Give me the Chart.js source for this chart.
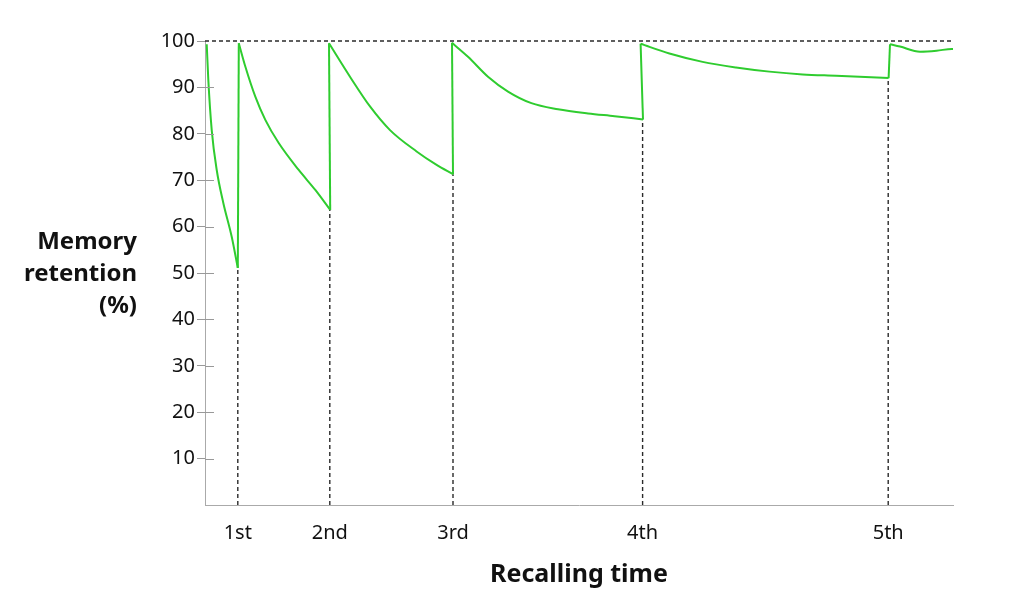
<!DOCTYPE html>
<html>
<head>
<meta charset="utf-8">
<script src="https://cdn.jsdelivr.net/npm/chart.js@4/dist/chart.umd.min.js"></script>
<style>
html,body{margin:0;padding:0;background:#fff;}
#wrap{width:1024px;height:616px;}
</style>
</head>
<body>
<div id="wrap"><canvas id="c" width="1024" height="616"></canvas></div>
<script>
// ---- data ----
// forgetting curve, one array per decay period (after each recall the retention jumps back up)
const decayX = [
  [0.43,0.83,1.68,2.93,4.58,6.68,8.2],
  [8.45,10.08,12.58,15.08,18.43,23.43,27.58,31.3],
  [31.0,36.25,41.25,46.25,52.9,57.9,62.0],
  [61.75,65.75,70.75,75.75,81.6,88.25,95.75,102.4,109.5],
  [108.9,116.1,124.4,132.75,141.1,149.4,157.75,170.9],
  [171.25,173.75,178.75,182.9,186.7,187]
];
const decayY = [
  [99.3,91.6,80.8,72.2,65.1,57.8,51.1],
  [99.5,94.5,88,83,78,72.2,67.9,63.6],
  [99.5,92.3,85.9,80.8,76.2,73.3,71.3],
  [99.6,96.6,92.3,89.1,86.6,85.3,84.4,83.8,83.1],
  [99.4,97.3,95.5,94.3,93.4,92.8,92.5,92.0],
  [99.3,98.8,97.7,97.9,98.3,98.3]
];
const recallX = [8.2, 31.2, 62.0, 109.4, 170.8];
const recallBottom = [51.1, 63.6, 71.3, 83.1, 92.0];
const recallLabels = ['1st','2nd','3rd','4th','5th'];
const yTickValues = [10,20,30,40,50,60,70,80,90,100];
const xMin = 0, xMax = 187;
const yTitleLines = ['Memory','retention','(%)'];
const xTitle = 'Recalling time';

// ---- build ----
const FONT = '"Noto Sans", "Open Sans", sans-serif';
const GREEN = '#2fcc2f';
const DASH = {borderColor:'#2a2a2a', borderWidth:1.4, borderDash:[4,3], pointRadius:0, order:2, clip:false};
const datasets = [];
datasets.push(Object.assign({data:[{x:xMin,y:100},{x:xMax,y:100}]}, DASH));
recallX.forEach((rx,i)=>{
  datasets.push(Object.assign({data:[{x:rx,y:0},{x:rx,y:recallBottom[i]}]}, DASH));
});
decayX.forEach((xs,s)=>{
  datasets.push({
    data: xs.map((x,i)=>({x:x,y:decayY[s][i]})),
    borderColor:GREEN, borderWidth:2, pointRadius:0, cubicInterpolationMode:'monotone', order:1
  });
  if (s < decayX.length-1) {
    const n = xs.length-1;
    datasets.push({
      data:[{x:xs[n],y:decayY[s][n]},{x:decayX[s+1][0],y:decayY[s+1][0]}],
      borderColor:GREEN, borderWidth:2, pointRadius:0, tension:0, order:1
    });
  }
});

const extras = {
  id:'extras',
  afterDraw(chart){
    const ctx = chart.ctx;
    const ys = chart.scales.y;
    const left = chart.chartArea.left;
    ctx.save();
    ctx.strokeStyle = '#999';
    ctx.lineWidth = 1;
    yTickValues.forEach(v=>{
      if (v===100) return;
      const py = Math.round(ys.getPixelForValue(v))+0.5;
      ctx.beginPath(); ctx.moveTo(left, py); ctx.lineTo(left+9, py); ctx.stroke();
    });
    ctx.fillStyle = '#111';
    ctx.font = 'bold 24px ' + FONT;
    ctx.textAlign = 'right';
    ctx.textBaseline = 'alphabetic';
    yTitleLines.forEach((t,i)=>{ ctx.fillText(t, 137, 249 + i*32); });
    ctx.restore();
  }
};

new Chart(document.getElementById('c'), {
  type:'line',
  data:{datasets},
  options:{
    responsive:false, animation:false,
    layout:{padding:{left:0,right:71,top:41,bottom:0}},
    plugins:{legend:{display:false}, tooltip:{enabled:false}},
    scales:{
      x:{
        type:'linear', min:xMin, max:xMax,
        afterFit(s){ s.height = 111; },
        afterBuildTicks(s){ s.ticks = recallX.map(v=>({value:v})); },
        grid:{display:false},
        border:{display:true,color:'#aaa',width:1},
        ticks:{ callback:(v,i)=>recallLabels[i], color:'#111', padding:8, maxRotation:0, autoSkip:false,
          font:{family:FONT,size:20} },
        title:{display:true, text:xTitle, color:'#111', padding:{top:0,bottom:26},
          font:{family:FONT,size:25,weight:'bold'}}
      },
      y:{
        type:'linear', min:0, max:100,
        afterFit(s){ s.width = 205; },
        afterBuildTicks(s){ s.ticks = yTickValues.map(v=>({value:v})); },
        grid:{display:true, drawOnChartArea:false, drawTicks:true, tickLength:8, color:'#999'},
        border:{display:true,color:'#aaa',width:1},
        ticks:{ color:'#111', padding:2, font:{family:FONT,size:20} }
      }
    }
  },
  plugins:[extras]
});
</script>
</body>
</html>
